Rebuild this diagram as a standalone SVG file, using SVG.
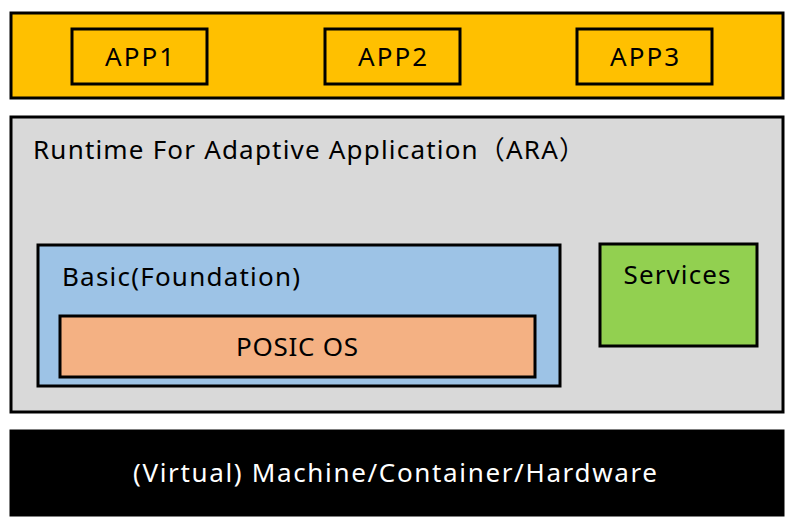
<svg xmlns="http://www.w3.org/2000/svg" width="795" height="529" viewBox="0 0 795 529">
<style>
rect{stroke:#000;stroke-width:3}
text{font-family:"Noto Sans","Noto Sans CJK SC",sans-serif;font-size:26px;fill:#000}
.c{text-anchor:middle}
</style>
<rect width="795" height="529" fill="#fff" style="stroke:none"/>
<g id="apps"><rect x="11" y="13" width="772" height="85" fill="#FFC000"/></g>
<g id="app1"><rect x="72" y="29" width="135" height="55" fill="#FFC000"/><text class="c" x="139.5" y="66" textLength="69">APP1</text></g>
<g id="app2"><rect x="325" y="29" width="135" height="55" fill="#FFC000"/><text class="c" x="392.5" y="66" textLength="69">APP2</text></g>
<g id="app3"><rect x="577" y="29" width="135" height="55" fill="#FFC000"/><text class="c" x="644.5" y="66" textLength="69">APP3</text></g>
<g id="ara"><rect x="11" y="117" width="772" height="295" fill="#D9D9D9"/><text x="33" y="159" textLength="552">Runtime For Adaptive Application（ARA）</text></g>
<g id="basic"><rect x="38" y="245" width="522" height="141" fill="#9DC3E6"/><text x="62" y="286" textLength="238">Basic(Foundation)</text></g>
<g id="posic"><rect x="60" y="316" width="475" height="61" fill="#F4B183"/><text class="c" x="297" y="356" textLength="122">POSIC OS</text></g>
<g id="services"><rect x="600" y="244" width="157" height="102" fill="#92D050"/><text class="c" x="677" y="284" textLength="107">Services</text></g>
<g id="hw"><rect x="11" y="431" width="772" height="84" fill="#000"/><text class="c" x="395" y="482" textLength="524" style="fill:#fff">(Virtual) Machine/Container/Hardware</text></g>
<g id="connectors"/>
</svg>
